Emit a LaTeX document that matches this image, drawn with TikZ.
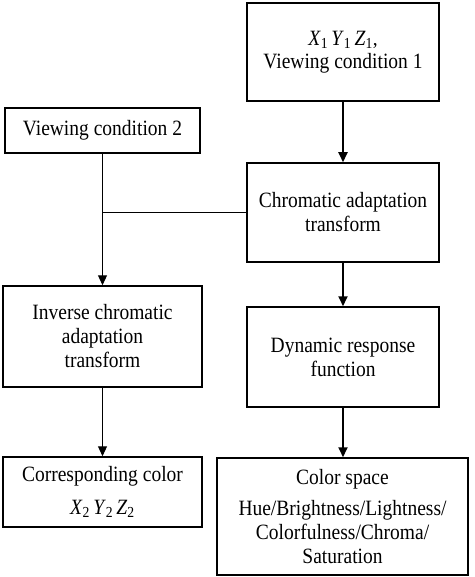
\documentclass[tikz,border=0pt]{standalone}
\usepackage{fontspec}
\setmainfont{Liberation Serif}
\usepackage{graphicx}
\usepackage{tikz}
\usetikzlibrary{arrows.meta, positioning, calc}

% taller glyphs, as in the scanned figure
\newcommand{\st}[1]{\scalebox{1}[1.12]{#1}}
\newcommand{\xyzsub}[1]{\st{\textit{X}\textsubscript{#1}\,\textit{Y}\textsubscript{#1}\,\textit{Z}\textsubscript{#1}}}

\begin{document}
\begin{tikzpicture}[
    x=1pt, y=-1pt,
    box/.style={rectangle, draw=black, line width=1.5pt, align=center, inner sep=0pt, font=\fontsize{19.5}{24}\selectfont},
    arrow/.style={-{Triangle[length=10pt, width=9pt]}, line width=1.8pt},
    thinarrow/.style={-{Triangle[length=10pt, width=9pt]}, line width=1.1pt},
]
\useasboundingbox (0,0) rectangle (474,577);

% Right column
\node[box, minimum width=192pt, minimum height=98pt] (xyz1) at (343,52) {
    \xyzsub{1},\\[-1pt]
    \st{Viewing condition 1}
};

\node[box, minimum width=192pt, minimum height=99pt] (cat) at (343,212.5) {
    \st{Chromatic adaptation}\\
    \st{transform}
};

\node[box, minimum width=192pt, minimum height=100pt] (dyn) at (343,357) {
    \st{Dynamic response}\\
    \st{function}
};

\node[box, minimum width=251pt, minimum height=117pt] (cspace) at (342.5,516.5) {
    \st{Color space}\\[7pt]
    \st{Hue/Brightness/Lightness/}\\
    \st{Colorfulness/Chroma/}\\
    \st{Saturation}
};

% Left column
\node[box, minimum width=195pt, minimum height=45pt] (vc2) at (102.5,130.5) {\st{Viewing condition 2}};

\node[box, minimum width=199pt, minimum height=101pt] (inv) at (102.5,336.5) {
    \st{Inverse chromatic}\\
    \st{adaptation}\\
    \st{transform}
};

\node[box, minimum width=199pt, minimum height=70pt] (corr) at (102.5,492) {
    \st{Corresponding color}\\[9pt]
    \xyzsub{2}
};

% Arrows
\draw[arrow] (xyz1) -- (cat);
\draw[arrow] (cat) -- (dyn);
\draw[arrow] (dyn) -- (cspace.north -| dyn.south);
\coordinate (join) at (vc2.south |- cat.west);
\draw[thinarrow] (vc2) -- (inv);
\draw[line width=1.1pt] (cat.west) -- (join);
\draw[thinarrow] (inv) -- (corr);

\end{tikzpicture}
\end{document}
